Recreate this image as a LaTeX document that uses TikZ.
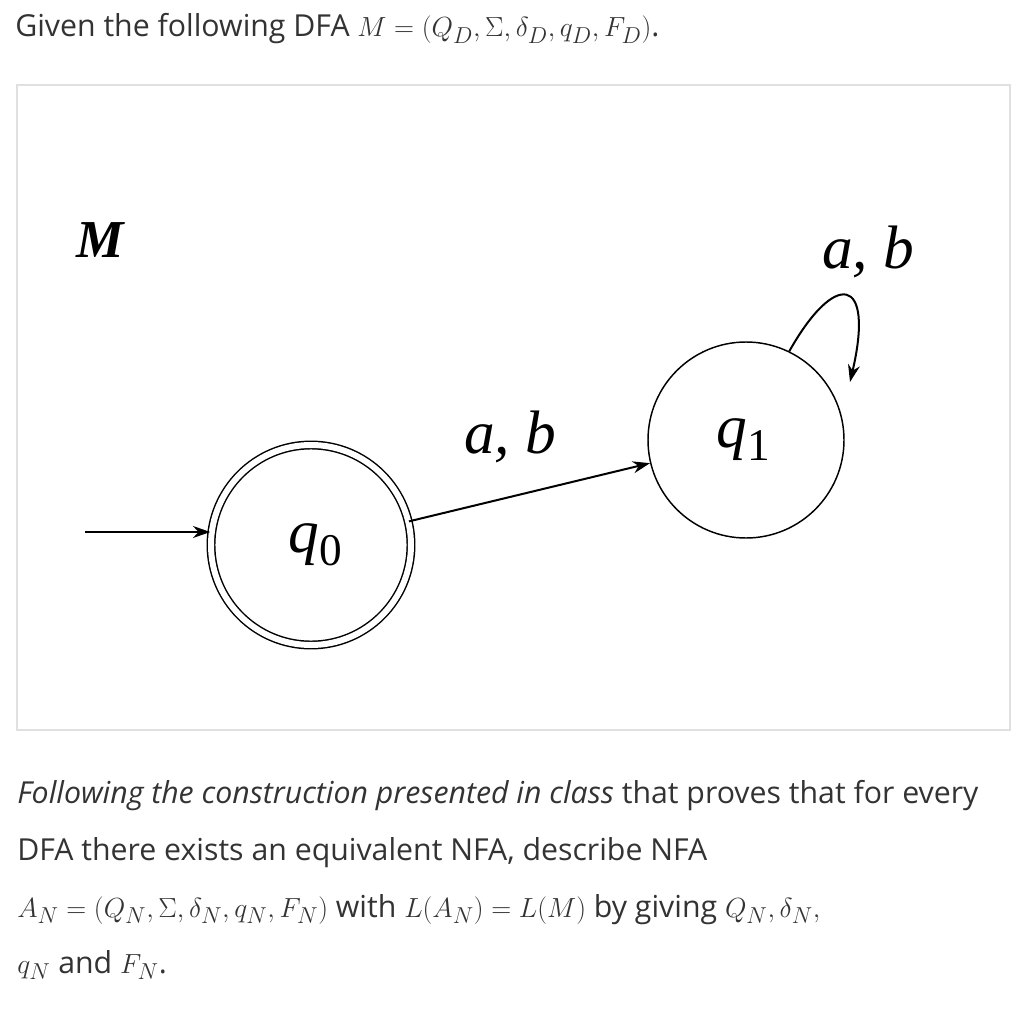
\documentclass[tikz,border=0pt]{standalone}
\usepackage{fontspec}
\setmainfont{Open Sans}
\newfontfamily\lbl{Liberation Serif}
\usetikzlibrary{arrows.meta}
\newcommand{\qsub}[1]{q\raisebox{-0.2em}{\fontsize{34}{0}\selectfont\upshape #1}}
\begin{document}
\begin{tikzpicture}[x=0.75pt,y=-0.75pt,
  txt/.style={anchor=base west,inner sep=0,font=\fontsize{22.7}{27}\selectfont,text=black!80},
  st/.style={circle,draw,line width=1.1pt,minimum size=#1*1.5pt,inner sep=0},
  lab/.style={font=\lbl\itshape\fontsize{46}{52}\selectfont,inner sep=0},
  edge/.style={line width=1.5pt,-{Stealth[length=13pt,width=9pt]}}]
\useasboundingbox (0,0) rectangle (1024,1024);
\node[txt] (t1) at (15,37) {Given the following DFA $M=(Q_D,\Sigma,\delta_D,q_D,F_D)$.};
\draw[black!12,line width=0.8pt] (17,85) rectangle (1010,730);
\node[lab,font=\lbl\bfseries\itshape\fontsize{40}{46}\selectfont] (m) at (100,240) {M};
\node[st=100,double,double distance=4.5pt] (q0) at (311,545) {};
\node[lab] (n0) at (315,545) {\qsub{0}};
\node[st=98] (q1) at (746,440) {};
\node[lab] (n1) at (743,440) {\qsub{1}};
\coordinate (init) at (85,532);
\draw[edge] (init) -- (q0.west |- init);
\draw[edge] (q0) -- (q1);
\node[lab] (l1) at (510,437) {a, b};
\coordinate (le) at (850,382);
\draw[edge] (q1.64) .. controls (835,270) and (875,275) .. (le);
\node[lab] (l2) at (868,252) {a, b};
\node[txt] (p1) at (17,803) {\textit{Following the construction presented in class} that proves that for every};
\node[txt] (p2) at (17,860) {DFA there exists an equivalent NFA, describe NFA};
\node[txt] (p3) at (17,917) {$A_N=(Q_N,\Sigma,\delta_N,q_N,F_N)$ with $L(A_N)=L(M)$ by giving $Q_N,\delta_N,$};
\node[txt] (p4) at (17,973) {$q_N$ and $F_N$.};
\end{tikzpicture}
\end{document}
